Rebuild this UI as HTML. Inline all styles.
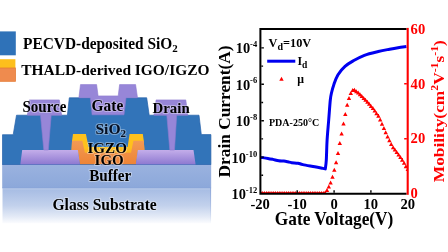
<!DOCTYPE html>
<html><head><meta charset="utf-8"><style>
html,body{margin:0;padding:0;background:#fff;width:448px;height:252px;overflow:hidden}
svg{display:block}
text{font-family:"Liberation Serif","Times New Roman",serif;font-weight:bold}
.g{stroke:rgba(255,255,255,0.35);stroke-width:2px;paint-order:stroke;stroke-linejoin:round}
</style></head><body>
<svg width="448" height="252" viewBox="0 0 448 252">
<defs>
<linearGradient id="buf" x1="0" y1="0" x2="0" y2="1"><stop offset="0" stop-color="#9ab2df"/><stop offset="1" stop-color="#8ca8da"/></linearGradient>
<linearGradient id="glass" x1="0" y1="0" x2="0" y2="1"><stop offset="0" stop-color="#bccdeb"/><stop offset="0.07" stop-color="#a9bee4"/><stop offset="0.5" stop-color="#c2d1ec"/><stop offset="0.8" stop-color="#e2e9f6"/><stop offset="1" stop-color="#fbfcfe"/></linearGradient>
<linearGradient id="gedge" x1="0" y1="0" x2="0" y2="1"><stop offset="0" stop-color="#8aa4d8"/><stop offset="1" stop-color="#8aa4d8" stop-opacity="0"/></linearGradient>
<linearGradient id="elec" x1="0" y1="0" x2="0" y2="1"><stop offset="0" stop-color="#c4aeea"/><stop offset="1" stop-color="#8d78d0"/></linearGradient>
<linearGradient id="ylw" x1="0" y1="0" x2="0" y2="1"><stop offset="0.45" stop-color="#ffc11c"/><stop offset="0.62" stop-color="#fbb226"/></linearGradient>
<linearGradient id="org" x1="0" y1="0" x2="0" y2="1"><stop offset="0" stop-color="#f29a55"/><stop offset="1" stop-color="#ee8436"/></linearGradient>
<clipPath id="pc"><rect x="260.4" y="28.9" width="147.3" height="164.8"/></clipPath>
</defs>
<!-- legend -->
<rect x="0" y="31.4" width="15.8" height="23.9" fill="#2f72b8"/>
<rect x="0" y="59.2" width="15.4" height="8.8" fill="#fdbf1c"/>
<rect x="-1" y="68" width="16.4" height="13.3" fill="#ef8b4e" stroke="#e47a34" stroke-width="0.8"/>
<text transform="translate(23,48.7) scale(1.0,1.03)" font-size="15.4">PECVD-deposited SiO<tspan font-size="11" dy="3">2</tspan></text>
<text x="21.2" y="75.4" font-size="15.45">THALD-derived IGO/IGZO</text>
<!-- device -->
<rect x="2.5" y="187.8" width="208.4" height="35.5" fill="url(#glass)"/>
<rect x="210.2" y="187.8" width="0.9" height="35" fill="url(#gedge)"/>
<rect x="2.5" y="164.2" width="208.4" height="23.8" fill="url(#buf)" stroke="#86a2d6" stroke-width="0.5"/>
<polygon fill="#3274b9" stroke="#2562ab" stroke-width="0.7" points="2.5,164.5 2.5,134.7 13.2,134.7 16.5,115.2 67.4,115.2 69.3,97.8 146.7,97.8 149.2,115.2 199,115.2 201.3,134.6 210.9,134.6 210.9,164.5"/>
<polygon fill="url(#ylw)" points="73,134 85.9,134 88.6,147 127.6,147 129.6,134 142.8,134 143.8,141 144.4,150 137.8,150 135.8,164 80,164 77.9,150 71.6,150 72,141"/>
<polygon fill="url(#org)" points="72,140.7 82.3,140.7 84.9,152.8 131,152.8 133.4,140.7 143.8,140.7 144.4,150 137.8,150 135.8,164.3 80,164.3 77.9,150 71.6,150"/>
<polygon fill="url(#elec)" points="22.2,149.9 77.9,149.9 80,164.5 20.3,164.5"/>
<polygon fill="url(#elec)" points="137.8,149.9 193.5,149.9 195.6,164.5 135.8,164.5"/>
<polygon fill="#9786d8" stroke="#8d7bd0" stroke-width="0.6" points="29.3,99.9 59.3,99.9 61.7,115.2 51.2,115.2 48.3,150 43.8,150 40.5,115.2 27.4,115.2"/>
<polygon fill="#9786d8" stroke="#8d7bd0" stroke-width="0.6" points="156.1,99.9 185.8,99.9 187.8,115.2 176.7,115.2 174.5,150 169.8,150 166.8,115.2 153.9,115.2"/>
<polygon fill="#9786d8" stroke="#8d7bd0" stroke-width="0.6" points="80.5,84.6 96.6,84.6 98.1,95.9 118.2,95.9 119.6,84.6 135.6,84.6 137.5,97.8 126,97.8 124,114.8 92.1,114.8 90.3,97.8 78.9,97.8"/>
<g class="g">
<text transform="translate(44.4,111.8) scale(1.0,1.08)" font-size="15" text-anchor="middle">Source</text>
<text transform="translate(107.4,110.7) scale(1.0,1.03)" font-size="15.4" text-anchor="middle">Gate</text>
<text transform="translate(171.1,113.3) scale(1.0,1.03)" font-size="14.9" text-anchor="middle">Drain</text>
<text x="95.4" y="134.1" font-size="15.6" fill="#050f22">SiO<tspan font-size="11" dy="3">2</tspan></text>
<text x="107.2" y="152.6" font-size="15.1" text-anchor="middle">IGZO</text>
<text x="109.2" y="164.9" font-size="15" text-anchor="middle">IGO</text>
<text transform="translate(110.2,180.5) scale(1.0,1.03)" font-size="15.2" text-anchor="middle">Buffer</text>
<text transform="translate(104.6,209.7) scale(1.0,1.08)" font-size="15.6" text-anchor="middle">Glass Substrate</text>
</g>
<!-- chart data -->
<g clip-path="url(#pc)"><path fill="#f00" d="M260.9 190.9l2.2 4.0h-4.4zM262.7 190.9l2.2 4.0h-4.4zM264.5 190.9l2.2 4.0h-4.4zM266.4 190.9l2.2 4.0h-4.4zM268.2 190.9l2.2 4.0h-4.4zM270.0 190.9l2.2 4.0h-4.4zM271.9 190.9l2.2 4.0h-4.4zM273.7 190.9l2.2 4.0h-4.4zM275.5 190.9l2.2 4.0h-4.4zM277.4 190.9l2.2 4.0h-4.4zM279.2 190.9l2.2 4.0h-4.4zM281.0 190.9l2.2 4.0h-4.4zM282.9 190.9l2.2 4.0h-4.4zM284.7 190.9l2.2 4.0h-4.4zM286.6 190.9l2.2 4.0h-4.4zM288.4 190.9l2.2 4.0h-4.4zM290.2 190.9l2.2 4.0h-4.4zM292.1 190.9l2.2 4.0h-4.4zM293.9 190.9l2.2 4.0h-4.4zM295.7 190.9l2.2 4.0h-4.4zM297.6 190.9l2.2 4.0h-4.4zM299.4 190.9l2.2 4.0h-4.4zM301.2 190.9l2.2 4.0h-4.4zM303.1 190.9l2.2 4.0h-4.4zM304.9 190.9l2.2 4.0h-4.4zM306.8 190.9l2.2 4.0h-4.4zM308.6 190.9l2.2 4.0h-4.4zM310.4 190.9l2.2 4.0h-4.4zM312.3 190.9l2.2 4.0h-4.4zM314.1 190.9l2.2 4.0h-4.4zM315.9 190.9l2.2 4.0h-4.4zM317.8 190.9l2.2 4.0h-4.4zM319.6 190.9l2.2 4.0h-4.4zM321.4 190.9l2.2 4.0h-4.4zM323.3 190.9l2.2 4.0h-4.4zM325.1 190.5l2.2 4.0h-4.4zM327.0 187.9l2.2 4.0h-4.4zM328.8 184.5l2.2 4.0h-4.4zM330.6 180.4l2.2 4.0h-4.4zM332.5 174.8l2.2 4.0h-4.4zM334.3 167.7l2.2 4.0h-4.4zM336.1 160.2l2.2 4.0h-4.4zM338.0 150.9l2.2 4.0h-4.4zM339.8 141.0l2.2 4.0h-4.4zM341.6 131.4l2.2 4.0h-4.4zM343.5 121.6l2.2 4.0h-4.4zM345.3 111.9l2.2 4.0h-4.4zM347.2 102.8l2.2 4.0h-4.4zM349.0 95.9l2.2 4.0h-4.4zM350.8 91.0l2.2 4.0h-4.4zM352.7 88.0l2.2 4.0h-4.4zM354.5 87.7l2.2 4.0h-4.4zM356.3 89.2l2.2 4.0h-4.4zM358.2 90.6l2.2 4.0h-4.4zM360.0 92.2l2.2 4.0h-4.4zM361.8 94.0l2.2 4.0h-4.4zM363.7 95.9l2.2 4.0h-4.4zM365.5 97.7l2.2 4.0h-4.4zM367.4 99.7l2.2 4.0h-4.4zM369.2 101.8l2.2 4.0h-4.4zM371.0 103.9l2.2 4.0h-4.4zM372.9 106.1l2.2 4.0h-4.4zM374.7 108.6l2.2 4.0h-4.4zM376.5 111.2l2.2 4.0h-4.4zM378.4 113.7l2.2 4.0h-4.4zM380.2 117.6l2.2 4.0h-4.4zM382.0 121.7l2.2 4.0h-4.4zM383.9 125.9l2.2 4.0h-4.4zM385.7 130.2l2.2 4.0h-4.4zM387.6 134.5l2.2 4.0h-4.4zM389.4 138.2l2.2 4.0h-4.4zM391.2 141.9l2.2 4.0h-4.4zM393.1 145.2l2.2 4.0h-4.4zM394.9 147.6l2.2 4.0h-4.4zM396.7 150.0l2.2 4.0h-4.4zM398.6 152.5l2.2 4.0h-4.4zM400.4 155.1l2.2 4.0h-4.4zM402.2 157.8l2.2 4.0h-4.4zM404.1 160.7l2.2 4.0h-4.4zM405.9 164.2l2.2 4.0h-4.4zM407.8 167.0l2.2 4.0h-4.4z"/>
<path fill="none" stroke="#0000f0" stroke-width="3" stroke-linejoin="round" d="M261 157.4C262.15 157.57 265.92 158.07 267.9 158.4C269.88 158.73 271.08 159.00 272.9 159.4C274.72 159.80 276.98 160.52 278.8 160.8C280.62 161.08 282.30 160.93 283.8 161.1C285.30 161.27 286.48 161.53 287.8 161.8C289.12 162.07 290.00 162.47 291.7 162.7C293.40 162.93 296.13 162.88 298 163.2C299.87 163.52 300.10 164.00 302.9 164.6C305.70 165.20 311.48 166.17 314.8 166.8C318.12 167.43 321.05 168.05 322.8 168.4C324.55 168.75 324.88 168.82 325.3 168.9C325.47 167.42 326.00 164.82 326.3 160C326.60 155.18 326.70 146.67 327.1 140C327.50 133.33 328.17 126.67 328.7 120C329.23 113.33 329.82 104.58 330.3 100C330.78 95.42 331.00 95.10 331.6 92.5C332.20 89.90 332.83 87.37 333.9 84.4C334.97 81.43 336.15 77.70 338 74.7C339.85 71.70 342.45 68.72 345 66.4C347.55 64.08 350.07 62.65 353.3 60.8C356.53 58.95 360.23 56.85 364.4 55.3C368.57 53.75 374.10 52.52 378.3 51.5C382.50 50.48 386.32 49.83 389.6 49.2C392.88 48.57 395.20 48.15 398 47.7C400.80 47.25 405.00 46.70 406.4 46.5"/></g>
<!-- axes -->
<path fill="none" stroke="#000" stroke-width="2" d="M260.4 27.9V194.7M259.4 28.9H406.6M259.4 193.7H406.6"/>
<path stroke="#f00" stroke-width="2.1" d="M407.7 27.9V194.8"/>
<g stroke="#000" stroke-width="1.4">
<path d="M261.3 47.9h2.6M261.3 66.1h1.8M261.3 84.3h2.6M261.3 102.5h1.8M261.3 120.7h2.6M261.3 138.9h1.8M261.3 157.1h2.6M261.3 175.3h1.8"/>
<path d="M297.2 192.8v-2.6M334.1 192.8v-2.6M370.9 192.8v-2.6"/>
</g>
<path stroke="#f00" stroke-width="1.4" d="M406.8 83.8h-2.6M406.8 138.8h-2.6"/>
<text x="257.2" y="52.7" font-size="14.4" text-anchor="end">10<tspan font-size="8.5" dy="-6.2">-4</tspan></text>
<text x="257.2" y="89.5" font-size="14.4" text-anchor="end">10<tspan font-size="8.5" dy="-6.2">-6</tspan></text>
<text x="257.2" y="126.3" font-size="14.4" text-anchor="end">10<tspan font-size="8.5" dy="-6.2">-8</tspan></text>
<text x="257.2" y="162.8" font-size="14.4" text-anchor="end">10<tspan font-size="8.5" dy="-6.2">-10</tspan></text>
<text x="257.2" y="199.4" font-size="14.4" text-anchor="end">10<tspan font-size="8.5" dy="-6.2">-12</tspan></text>
<text x="260.2" y="208.6" font-size="14.6" text-anchor="middle">-20</text>
<text x="297.2" y="208.6" font-size="14.6" text-anchor="middle">-10</text>
<text x="334.1" y="208.6" font-size="14.6" text-anchor="middle">0</text>
<text x="370.7" y="208.6" font-size="14.6" text-anchor="middle">10</text>
<text x="407.7" y="208.6" font-size="14.6" text-anchor="middle">20</text>
<text x="410.6" y="34" font-size="14.6" fill="#f00">60</text>
<text x="410.6" y="88.6" font-size="14.6" fill="#f00">40</text>
<text x="410.6" y="143.3" font-size="14.6" fill="#f00">20</text>
<text x="410.6" y="198" font-size="14.6" fill="#f00">0</text>
<text transform="translate(334.1,224.9) scale(1.0,1.04)" font-size="17.3" text-anchor="middle">Gate Voltage(V)</text>
<text transform="translate(229.6,111.45) scale(1.0,1.05) rotate(-90)" font-size="16.5" text-anchor="middle">Drain Current(A)</text>
<text transform="translate(444.4,111.2) scale(1.0,1.12) rotate(-90)" font-size="15.5" text-anchor="middle" fill="#f00">Mobility(cm<tspan font-size="10.5" dy="-6">2</tspan><tspan dy="6">V</tspan><tspan font-size="10.5" dy="-6">-1</tspan><tspan dy="6">s</tspan><tspan font-size="10.5" dy="-6">-1</tspan><tspan dy="6">)</tspan></text>
<text transform="translate(268.6,46.8) scale(1.0,0.96)" font-size="12.3">V<tspan font-size="10" dy="3">d</tspan><tspan dy="-3">=10V</tspan></text>
<path stroke="#0000f0" stroke-width="3" d="M267.2 61.2H295.3"/>
<text x="297.5" y="64.5" font-size="11.8">I<tspan font-size="9.5" dy="3">d</tspan></text>
<path fill="#f00" d="M281.5 76.8l2.2 4h-4.4z"/>
<text x="297.3" y="82.8" font-size="11.8">μ</text>
<text x="269" y="126.1" font-size="10">PDA-250°C</text>
</svg>
</body></html>
